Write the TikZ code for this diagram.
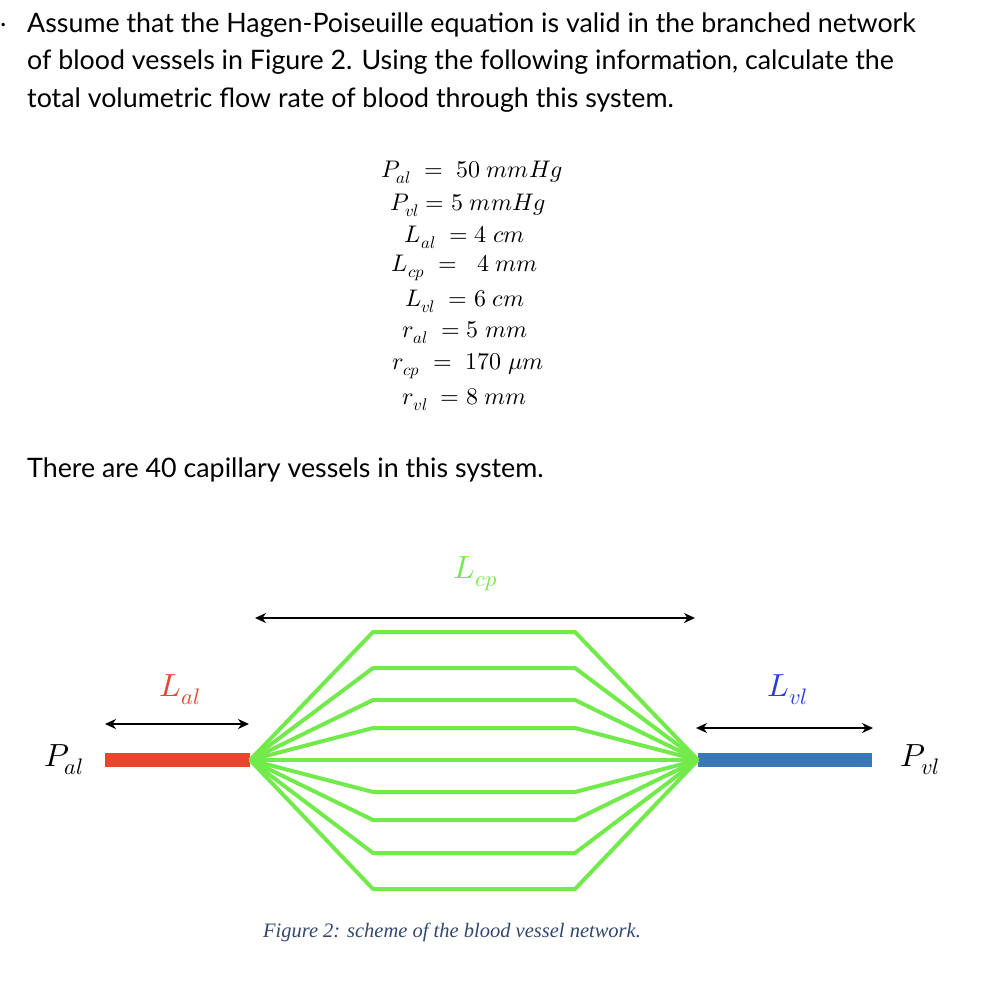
\documentclass[tikz,border=0pt]{standalone}
\usetikzlibrary{arrows.meta}
\usepackage{fontspec}
\setmainfont{Lato}
\newfontfamily\capfont{Liberation Serif}
\usepackage{unicode-math}
\setmathfont{Latin Modern Math}
\definecolor{cgreen}{RGB}{114,234,76}
\definecolor{cred}{RGB}{232,69,47}
\definecolor{cblue}{RGB}{58,120,184}
\definecolor{lblue}{RGB}{40,60,220}
\definecolor{capc}{RGB}{50,70,110}
\begin{document}
\begin{tikzpicture}[x=1pt,y=-1pt,
  body/.style={anchor=west,font=\fontsize{26.8}{38}\selectfont,inner sep=0},
  eq/.style={font=\fontsize{24}{28}\selectfont,inner sep=0},
  capline/.style={line width=4pt,cgreen,line join=round},
  dim/.style={line width=2pt,{Stealth[length=11pt,width=10pt]}-{Stealth[length=11pt,width=10pt]}},
  lab/.style={font=\fontsize{32}{36}\selectfont,inner sep=0}]
\useasboundingbox (0,0) rectangle (984,984);
\node[body] (dot) at (0,25) {.};
\node[body] (t1) at (27,25) {Assume that the Hagen-Poiseuille equation is valid in the branched network};
\node[body] (t2) at (27,62) {of blood vessels in Figure 2. Using the following information, calculate the};
\node[body] (t3) at (27,100) {total volumetric flow rate of blood through this system.};
\node[eq] (e1) at (472,172) {$P_{al}\;=\;50\;mmHg$};
\node[eq] (e2) at (468,205) {$P_{vl}=5\;mmHg$};
\node[eq] (e3) at (465,237) {$L_{al}\;=4\;cm$};
\node[eq] (e4) at (465,268) {$L_{cp}\;=\;\;4\;mm$};
\node[eq] (e5) at (465,301) {$L_{vl}\;=6\;cm$};
\node[eq] (e6) at (465,333) {$r_{al}\;=5\;mm$};
\node[eq] (e7) at (468,366) {$r_{cp}\;=\;170\;\mu m$};
\node[eq] (e8) at (465,400) {$r_{vl}\;=8\;mm$};
\node[body] (t4) at (27,470) {There are 40 capillary vessels in this system.};
% vessels
\coordinate (A0) at (105,760);
\coordinate (A) at (250,760);
\coordinate (B) at (698,760);
\coordinate (B1) at (872,760);
\draw[cred,line width=14pt] (A0) -- (A);
\draw[cblue,line width=14pt] (B) -- (B1);
\foreach \y in {632,668,700,728,792,820,853,889}{
  \draw[capline] (A) -- (373,\y) -- (575,\y) -- (B);
}
\draw[capline] (A) -- (B);
% dimension arrows
\coordinate (c1) at (255,618); \coordinate (c2) at (695,618);
\draw[dim] (c1) -- (c2);
\coordinate (d1) at (105,724); \coordinate (d2) at (249,724);
\draw[dim] (d1) -- (d2);
\coordinate (f1) at (696,728); \coordinate (f2) at (873,728);
\draw[dim] (f1) -- (f2);
\node[lab,text=cgreen] (lcp) at (476,574) {$L_{cp}$};
\node[lab,text=cred] (lal) at (180,690) {$L_{al}$};
\node[lab,text=lblue] (lvl) at (788,690) {$L_{vl}$};
\node[lab] (pal) at (64,760) {$P_{al}$};
\node[lab] (pvl) at (920,760) {$P_{vl}$};
\node[font=\fontsize{20.5}{24}\selectfont\capfont\itshape,text=capc,inner sep=0] (capt) at (452,932) {Figure 2: scheme of the blood vessel network.};
\end{tikzpicture}
\end{document}
